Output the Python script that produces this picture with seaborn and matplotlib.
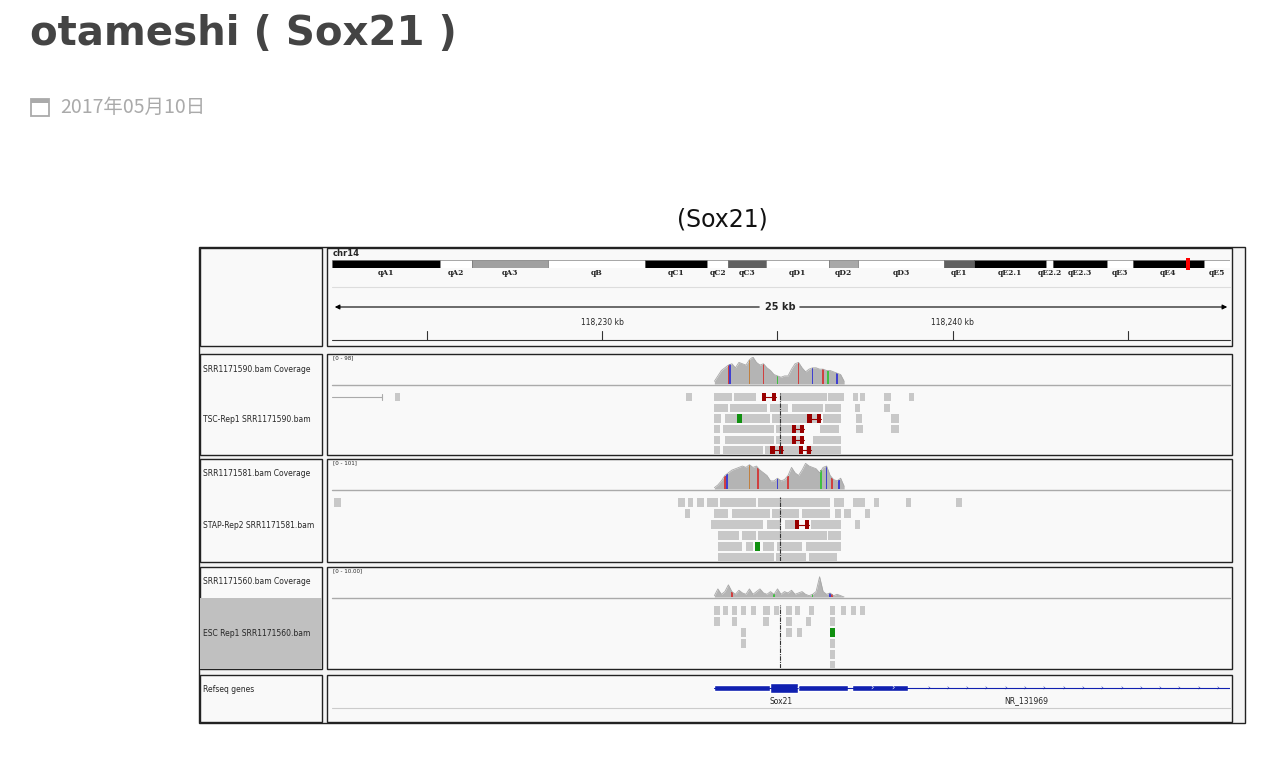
import numpy as np
import pandas as pd
import seaborn as sns
import matplotlib.pyplot as plt
from matplotlib.patches import Rectangle

sns.set_theme(style="white")
plt.rcParams['font.family'] = ['DejaVu Sans', 'Noto Sans CJK JP']

W, H = 1280, 762
SPAN = 25.6  # kb shown in window
REGION_START = 118222.3

# cytoband: names, edges (fraction of view), colours
band_names = ['qA1', 'qA2', 'qA3', 'qB', 'qC1', 'qC2', 'qC3', 'qD1', 'qD2', 'qD3',
              'qE1', 'qE2.1', 'qE2.2', 'qE2.3', 'qE3', 'qE4', 'qE5']
band_edges = [0, .120, .156, .241, .349, .418, .441, .483, .553, .586, .682, .715, .795, .803, .863, .892, .971, 1.0]
band_colors = ['#000000', '#ffffff', '#a0a0a0', '#ffffff', '#000000', '#ffffff', '#606060', '#ffffff',
               '#a8a8a8', '#ffffff', '#606060', '#000000', '#ffffff', '#000000', '#ffffff', '#000000', '#ffffff']
centromere_mark = 0.951

# coverage, 0.1 kb steps starting at 10.9 kb into window
cov_x0 = 10.9
cov1 = [0.1, 0.3, 0.5, 0.6, 0.7, 0.75, 0.6, 0.8, 0.75, 0.7, 0.9, 1.0, 0.8, 0.7, 0.75, 0.6, 0.5, 0.35, 0.3,
        0.25, 0.3, 0.3, 0.55, 0.75, 0.8, 0.6, 0.45, 0.55, 0.6, 0.6, 0.55, 0.55, 0.5, 0.5, 0.45, 0.4, 0.35, 0.1]
cov2 = [0.05, 0.15, 0.3, 0.5, 0.6, 0.7, 0.75, 0.8, 0.85, 0.8, 0.9, 0.8, 0.85, 0.7, 0.6, 0.5, 0.3, 0.3, 0.4,
        0.3, 0.35, 0.5, 0.8, 0.6, 0.5, 0.7, 0.95, 0.85, 0.8, 0.75, 0.6, 0.8, 0.85, 0.5, 0.35, 0.3, 0.4, 0.1]
cov3 = [0.05, 0.3, 0.1, 0.2, 0.45, 0.2, 0.1, 0.25, 0.15, 0.1, 0.3, 0.1, 0.2, 0.3, 0.15, 0.1, 0.2, 0.1, 0.3,
        0.1, 0.2, 0.15, 0.25, 0.1, 0.15, 0.2, 0.1, 0.05, 0.1, 0.2, 0.75, 0.2, 0.1, 0.15, 0.05, 0.1, 0.05, 0.0]
mism1 = [(11.3, '#d04040'), (11.35, '#4040d0'), (11.9, '#c08040'), (12.3, '#d04040'), (12.7, '#40c040'),
         (13.3, '#d04040'), (13.7, '#4040d0'), (14.0, '#d04040'), (14.15, '#40c040'), (14.4, '#4040d0')]
mism2 = [(11.2, '#d04040'), (11.25, '#4040d0'), (11.9, '#c08040'), (12.15, '#d04040'), (12.7, '#4040d0'),
         (13.0, '#d04040'), (13.95, '#40c040'), (14.1, '#4040d0'), (14.25, '#d04040'), (14.45, '#4040d0')]
mism3 = [(11.4, '#d04040'), (12.6, '#40c040'), (14.2, '#4040d0'), (14.25, '#d04040'), (13.7, '#40c040')]

# reads per track: (row, start kb, end kb)
reads1 = [(0, 10.1, 10.25), (0, 10.9, 11.4), (0, 11.45, 12.1), (0, 12.76, 14.1), (0, 14.15, 14.6), (0, 14.85, 15.0),
          (0, 15.05, 15.2), (0, 15.75, 15.95), (0, 16.45, 16.6), (0, 1.8, 1.95),
          (1, 10.9, 11.3), (1, 11.35, 12.4), (1, 12.5, 13.0), (1, 13.1, 14.0), (1, 14.05, 14.5), (1, 14.9, 15.05), (1, 15.75, 15.9),
          (2, 10.9, 11.1), (2, 11.2, 12.5), (2, 12.55, 13.9), (2, 14.0, 14.5), (2, 14.95, 15.1), (2, 15.95, 16.15),
          (3, 10.9, 11.05), (3, 11.15, 12.6), (3, 12.65, 13.4), (3, 13.9, 14.45), (3, 14.95, 15.15), (3, 15.95, 16.15),
          (4, 10.9, 11.05), (4, 11.2, 12.6), (4, 12.65, 13.4), (4, 13.7, 14.5),
          (5, 10.9, 11.05), (5, 11.15, 12.3), (5, 12.35, 13.3), (5, 13.5, 14.5)]
pairs1 = [(0, 12.25, 12.65), (2, 13.55, 13.95), (3, 13.1, 13.45), (4, 13.1, 13.45), (5, 12.5, 12.85), (5, 13.3, 13.65)]
green1 = [(2, 11.55, 11.68)]
reads2 = [(0, 0.05, 0.25), (0, 9.85, 10.05), (0, 10.15, 10.3), (0, 10.4, 10.6), (0, 10.7, 11.0), (0, 11.05, 12.1),
          (0, 12.15, 14.2), (0, 14.3, 14.6), (0, 14.85, 15.2), (0, 15.45, 15.6), (0, 16.35, 16.5), (0, 17.8, 17.95),
          (1, 10.05, 10.2), (1, 10.9, 11.3), (1, 11.4, 12.5), (1, 12.55, 13.3), (1, 13.4, 14.2), (1, 14.35, 14.5), (1, 14.6, 14.8),
          (1, 15.2, 15.35),
          (2, 10.8, 12.3), (2, 12.4, 12.8), (2, 12.9, 13.2), (2, 13.65, 14.5), (2, 14.9, 15.05),
          (3, 11.0, 11.6), (3, 11.7, 12.1), (3, 12.15, 14.1), (3, 14.15, 14.5),
          (4, 11.0, 11.7), (4, 11.8, 12.0), (4, 12.3, 12.6), (4, 12.7, 13.4), (4, 13.5, 14.5),
          (5, 11.0, 12.6), (5, 12.65, 13.5), (5, 13.6, 14.4), (6, 11.0, 14.5)]
pairs2 = [(2, 13.2, 13.6)]
green2 = [(4, 12.05, 12.2)]
reads3 = [(0, 10.9, 11.05), (0, 11.15, 11.3), (0, 11.4, 11.55), (0, 11.65, 11.8), (0, 11.95, 12.1), (0, 12.3, 12.5),
          (0, 12.6, 12.75), (0, 12.95, 13.1), (0, 13.2, 13.35), (0, 13.6, 13.75), (0, 14.2, 14.35), (0, 14.5, 14.65),
          (0, 14.8, 14.95), (0, 15.05, 15.2),
          (1, 10.9, 11.05), (1, 11.4, 11.55), (1, 12.3, 12.45), (1, 12.95, 13.1), (1, 13.5, 13.65), (1, 14.2, 14.35),
          (2, 11.65, 11.8), (2, 12.95, 13.1), (2, 13.25, 13.4), (3, 11.65, 11.8), (3, 14.2, 14.35), (4, 14.2, 14.35),
          (5, 14.2, 14.35)]
pairs3 = []
green3 = [(2, 14.2, 14.35)]

track_names = [('SRR1171590.bam Coverage', 'TSC-Rep1 SRR1171590.bam', '[0 - 98]'),
               ('SRR1171581.bam Coverage', 'STAP-Rep2 SRR1171581.bam', '[0 - 101]'),
               ('SRR1171560.bam Coverage', 'ESC Rep1 SRR1171560.bam', '[0 - 10.00]')]
# panel tops/bottoms and read row pitch, in px
panel_y = [(352, 457), (457, 564), (565, 671)]
row_pitch = [10.6, 11.0, 11.0]

fig = plt.figure(figsize=(W / 100, H / 100), dpi=100)
base = fig.add_axes([0, 0, 1, 1])
base.set_xlim(0, W)
base.set_ylim(H, 0)
base.axis('off')


def px_axes(x0, y0, x1, y1):
    ax = fig.add_axes([x0 / W, 1 - y1 / H, (x1 - x0) / W, (y1 - y0) / H])
    ax.set_xlim(0, SPAN)
    ax.axis('off')
    return ax


def frame(x0, y0, x1, y1, fc='#f9f9f9', lw=1.0):
    base.add_patch(Rectangle((x0, y0), x1 - x0, y1 - y0, fc=fc, ec='#222222', lw=lw))


base.text(30, 34, 'otameshi ( Sox21 )', fontsize=29, fontweight='bold', color='#444444', va='center',
          family='DejaVu Sans')
base.add_patch(Rectangle((31, 99), 18, 17, fc='none', ec='#aaaaaa', lw=1.3))
base.add_patch(Rectangle((31, 99), 18, 4, fc='#aaaaaa', ec='none'))
base.text(60, 107, '2017年05月10日', fontsize=14, color='#aaaaaa', va='center',
          family=['Noto Sans CJK JP', 'DejaVu Sans'])
base.text(722, 220, '(Sox21)', fontsize=17, color='#111111', ha='center', va='center')

# outer frames
frame(199, 247, 1245, 723, fc='#f4f4f4')
frame(200, 248, 322, 346)
frame(327, 248, 1232, 346)
for t, b in panel_y:
    frame(200, t + 2, 322, b - 2, fc='#f9f9f9')
    frame(327, t + 2, 1232, b - 2, fc='#f9f9f9')
base.add_patch(Rectangle((200, 598), 122, 71, fc='#c0c0c0', ec='none'))
frame(200, 675, 322, 722)
frame(327, 675, 1232, 722)

# ideogram and ruler
base.text(333, 254, 'chr14', fontsize=6, fontweight='bold', va='center')
ideo = px_axes(332, 260, 1230, 268)
ideo.set_xlim(0, 1)
ideo.set_ylim(0, 1)
for c, s, e in zip(band_colors, band_edges[:-1], band_edges[1:]):
    ideo.add_patch(Rectangle((s, 0), e - s, 1, fc=c, ec='#666666', lw=0.4))
ideo.add_patch(Rectangle((centromere_mark, -0.2), 0.005, 1.5, fc='red', ec='none', clip_on=False))
lab = px_axes(332, 268, 1230, 278)
lab.set_xlim(0, 1)
lab.set_ylim(0, 1)
for nm, s, e in zip(band_names, band_edges[:-1], band_edges[1:]):
    lab.text((s + e) / 2, 0.5, nm, fontsize=5.5, ha='center', va='center', family='DejaVu Serif', fontweight='bold')
base.plot([332, 1230], [287, 287], color='#dddddd', lw=0.8)
base.annotate('', xy=(332, 307), xytext=(762, 307), arrowprops=dict(arrowstyle='-|>', color='black', lw=0.8, mutation_scale=7))
base.annotate('', xy=(1230, 307), xytext=(797, 307), arrowprops=dict(arrowstyle='-|>', color='black', lw=0.8, mutation_scale=7))
base.text(780, 307, '25 kb', fontsize=7, fontweight='bold', ha='center', va='center')
ruler = px_axes(332, 320, 1230, 340)
ruler.set_ylim(0, 1)
tick_kb = [118225, 118230, 118235, 118240, 118245]
for k in tick_kb:
    x = k - REGION_START
    ruler.plot([x, x], [0, 0.45], color='#333333', lw=0.8)
    if k % 10 == 0:
        ruler.text(x, 0.85, f'{int(k):,} kb', fontsize=5.5, ha='center', va='center')
base.plot([332, 1230], [340, 340], color='#333333', lw=0.8)

# tracks
data = [(cov1, mism1, reads1, pairs1, green1), (cov2, mism2, reads2, pairs2, green2),
        (cov3, mism3, reads3, pairs3, green3)]
for (t, b), pitch, names, (cov, mism, reads, pairs, green) in zip(panel_y, row_pitch, track_names, data):
    base.text(203, t + 17, names[0], fontsize=5.5, va='center')
    base.text(203, t + 68, names[1], fontsize=5.5, va='center')
    base.text(333, t + 6, names[2], fontsize=4, va='center')
    base.plot([332, 1230], [t + 33, t + 33], color='#aaaaaa', lw=1)
    cax = px_axes(332, t + 5, 1230, t + 32)
    cax.set_ylim(0, 1)
    df = pd.DataFrame({'kb': cov_x0 + 0.1 * np.arange(len(cov)), 'cov': cov})
    sns.lineplot(data=df, x='kb', y='cov', ax=cax, color='#a8a8a8', lw=0.6)
    cax.fill_between(df['kb'], 0, df['cov'], color='#b4b4b4', lw=0)
    for x, c in mism:
        h = np.interp(x, df['kb'], df['cov'])
        cax.bar(x, h, width=0.05, color=c, lw=0)
    cax.axis('off')
    top = t + 40
    bottom = b - 3
    rax = px_axes(332, top, 1230, bottom)
    rax.set_ylim(-0.5 + (bottom - top) / pitch, -0.5)
    for row, s, e in reads:
        rax.barh(row, e - s, left=s, height=0.78, color='#c8c8c8', lw=0)
    for row, s, e in pairs:
        rax.barh(row, 0.12, left=s, height=0.78, color='#990000', lw=0)
        rax.barh(row, 0.12, left=e - 0.12, height=0.78, color='#990000', lw=0)
        rax.plot([s, e], [row, row], color='#990000', lw=0.8)
    for row, s, e in green:
        rax.barh(row, e - s, left=s, height=0.78, color='#109010', lw=0)
    rax.axvline(12.76, color='#333333', lw=0.8, ls=(0, (4, 1, 1, 1)))
    rax.axis('off')

# track 1 lone read line
base.plot([332, 382], [397, 397], color='#aaaaaa', lw=0.8)
base.plot([382, 382], [394, 400], color='#aaaaaa', lw=0.8)

# refseq
base.text(203, 690, 'Refseq genes', fontsize=5.5, va='center')
gax = px_axes(332, 676, 1230, 700)
gax.set_ylim(-1, 1)
gax.plot([10.9, SPAN], [0, 0], color='#1020b0', lw=0.8)
gax.barh(0, 14.7 - 10.9, left=10.9, height=0.45, color='#1020b0')
gax.barh(0, 16.41 - 14.81, left=14.81, height=0.45, color='#1020b0')
gax.barh(0, 13.28 - 12.48, left=12.48, height=0.9, color='#1020b0')
for x in np.arange(17.0, SPAN, 0.55):
    gax.text(x, 0, '›', color='#1020b0', fontsize=5, ha='center', va='center')
for x in [15.4, 16.0]:
    gax.text(x, 0, '›', color='white', fontsize=6, ha='center', va='center')
gax.text(13.3, 0, '‹', color='white', fontsize=6, ha='center', va='center')
base.text(781, 701, 'Sox21', fontsize=5.5, ha='center', va='center')
base.text(1026, 701, 'NR_131969', fontsize=5.5, ha='center', va='center')
base.plot([332, 1230], [708, 708], color='#cccccc', lw=0.8)

fig.savefig('out.png', dpi=100)
